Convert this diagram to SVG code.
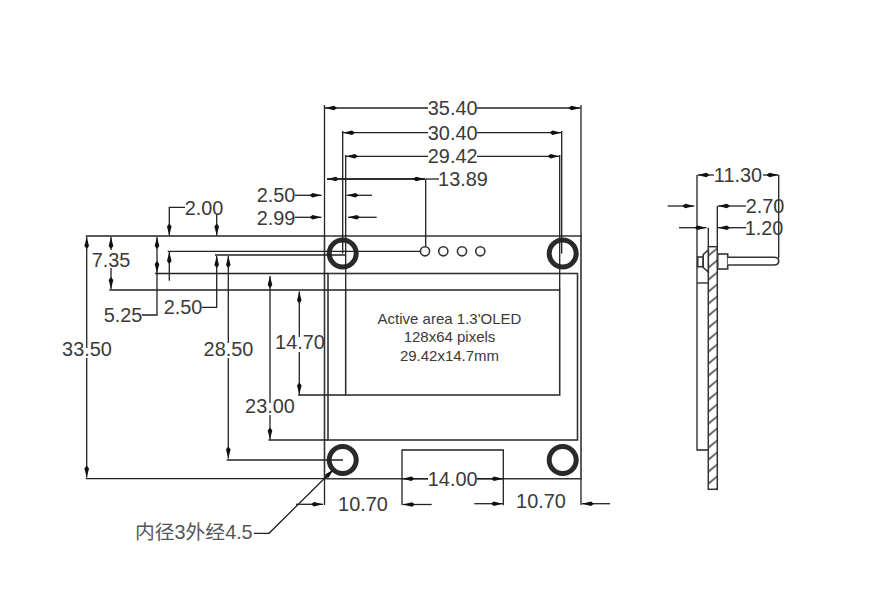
<svg xmlns="http://www.w3.org/2000/svg" width="874" height="590" viewBox="0 0 874 590">
<style>
.l{fill:none;stroke:#222;stroke-width:1.3}
.b{fill:none;stroke:#333;stroke-width:1.6}
.h{fill:#fff;stroke:#2a2a2a;stroke-width:5}
.p{fill:#fff;stroke:#333;stroke-width:1.6}
.d{font-family:"Liberation Sans",Arial,sans-serif;font-size:19.9px;fill:#3a3a3a;text-anchor:middle}
.c{font-family:"Liberation Sans",Arial,sans-serif;font-size:15px;fill:#3a3a3a;text-anchor:middle}
.a{marker-end:url(#ar)}
.s{marker-start:url(#al)}
</style>
<defs>
<marker id="ar" markerUnits="userSpaceOnUse" markerWidth="14" markerHeight="8" refX="12" refY="4" orient="auto"><path d="M0 4L3 1.7L12 4L3 6.3Z" fill="#111"/></marker>
<marker id="al" markerUnits="userSpaceOnUse" markerWidth="14" markerHeight="8" refX="1" refY="4" orient="auto"><path d="M13 4L10 1.7L1 4L10 6.3Z" fill="#111"/></marker>
<pattern id="hatch" patternUnits="userSpaceOnUse" width="9" height="12" x="708.3" y="246.7"><path d="M-1 9.8L10 .8M-1 21.8L10 12.8" stroke="#333" stroke-width="1.4" fill="none"/></pattern>
</defs>
<rect width="874" height="590" fill="#fff"/>
<g id="board">
<path class="b" d="M428 478.7H324.5V236H581V478.7H477"/>
<rect class="b" x="328" y="273.5" width="249.5" height="166.5"/>
<rect class="b" x="345.7" y="290" width="214" height="105"/>
</g>
<g id="holes">
<circle class="h" cx="342.7" cy="253.5" r="13.5"/>
<circle class="h" cx="562.7" cy="253.5" r="13.5"/>
<circle class="h" cx="342.7" cy="460" r="13.5"/>
<circle class="h" cx="562.7" cy="460" r="13.5"/>
</g>
<g id="pins">
<circle class="p" cx="425" cy="251.3" r="4.6"/>
<circle class="p" cx="443.3" cy="251.3" r="4.6"/>
<circle class="p" cx="462" cy="251.3" r="4.6"/>
<circle class="p" cx="480.3" cy="251.3" r="4.6"/>
</g>
<g id="active-area-label">
<text class="c" x="449.5" y="324">Active area 1.3'OLED</text>
<text class="c" x="449.5" y="342">128x64 pixels</text>
<text class="c" x="449.5" y="361">29.42x14.7mm</text>
</g>
<g id="connectors">
<!-- top dimensions -->
<path class="l" d="M324.5 105V236M581 105V236M342.7 131V253.5M561.7 131V253.5M345.7 155V290M559.7 155V290M425.7 179V246.7"/>
<path class="l s" d="M325 108H428"/><path class="l a" d="M477 108H580.5"/>
<path class="l s" d="M343 132.7H428"/><path class="l a" d="M477 132.7H561.5"/>
<path class="l s" d="M346 156.3H428"/><path class="l a" d="M477 156.3H559.5"/>
<path class="l s" d="M327 179H425"/><path class="l a" d="M327 179H425"/><path class="l" d="M425.7 179H439"/>
<path class="l a" d="M295 195.3H321.5"/><path class="l s" d="M346.7 195.3H372"/>
<path class="l a" d="M295 217.3H321.5"/><path class="l s" d="M348 217.3H376.7"/>
<!-- 2.00 -->
<path class="l a" d="M185 207.3H169.3V235.5"/>
<path class="l a" d="M216.7 214V235.5"/>
<!-- long horizontals -->
<path class="l" d="M85.7 236H324.5M85.7 478.7H324.5M155 273.5H328M109.3 290H345.7M167.7 251.3H420.5M215 255H345M226.7 460H343M268.5 440H328M298 395H345.7"/>
<!-- 33.50 -->
<path class="l s" d="M86.7 237V348"/><path class="l a" d="M86.7 358V477.5"/>
<!-- 7.35 -->
<path class="l s" d="M111 237V250"/><path class="l a" d="M111 268V289"/>
<!-- 5.25 -->
<path class="l s" d="M157 237V255"/><path class="l a" d="M157 255V273"/><path class="l" d="M157 273V315H142"/>
<!-- 2.50 -->
<path class="l s" d="M169.3 252V280.7"/>
<path class="l s" d="M216.7 256V307.3H201.7"/>
<!-- 28.50 -->
<path class="l s" d="M228.3 256V343"/><path class="l a" d="M228.3 358V458.5"/>
<!-- 23.00 -->
<path class="l s" d="M270 276V403"/><path class="l a" d="M270 415V439.5"/>
<!-- 14.70 -->
<path class="l s" d="M299.3 291.5V337"/><path class="l a" d="M299.3 352V394.5"/>
<!-- 14.00 and 10.70 -->
<path class="l" d="M402 505.3V450H503.3V505.3M581 478.7V505"/>
<path class="l" d="M324.5 478.7V505"/>
<path class="l s" d="M402.5 478.7H428"/><path class="l a" d="M477 478.7H503"/>
<path class="l a" d="M296 504.3H323"/>
<path class="l s" d="M403 504.5H431.7"/>
<path class="l a" d="M474.3 503.7H502.8"/>
<path class="l s" d="M582 503.7H610"/>
<!-- leader -->
<path class="l a" d="M254 533.3H269L333.5 469.5"/>
<!-- side view -->
<path class="l" d="M778.7 175V258"/>
<path class="l" d="M697 175V450H708.3"/>
<path class="l" d="M697 283H708.3"/>
<path class="l s" d="M697.5 175H714"/><path class="l a" d="M763 175H778.5"/>
<path class="l a" d="M667.7 206H694.3"/><path class="l s" d="M718 206H746"/>
<path class="l a" d="M679 227.7H706.5"/><path class="l s" d="M718 227.7H746"/>
<path class="l" d="M708.3 227.7V246.7M717.3 206V246.7"/>
</g>
<g id="side-view">
<rect x="708.3" y="246.7" width="9" height="242.6" fill="url(#hatch)" stroke="#333" stroke-width="1.5"/>
<rect class="p" x="717.7" y="254" width="10" height="15"/>
<path class="p" d="M727.7 257.3H774Q778.7 257.3 778.7 261Q778.7 265 774 265H727.7"/>
<rect class="p" x="697.7" y="257" width="5.5" height="9.7"/>
<path class="p" d="M703.2 254.5L708.3 250V272L703.2 267.5Z"/>
</g>
<g id="labels">
<text class="d" x="452.7" y="115">35.40</text>
<text class="d" x="452.7" y="139.5">30.40</text>
<text class="d" x="452.7" y="163">29.42</text>
<text class="d" x="463" y="186">13.89</text>
<text class="d" x="276" y="202">2.50</text>
<text class="d" x="276" y="224.5">2.99</text>
<text class="d" x="204" y="214.5">2.00</text>
<text class="d" x="111" y="267">7.35</text>
<text class="d" x="123" y="322">5.25</text>
<text class="d" x="183" y="314">2.50</text>
<text class="d" x="87" y="356">33.50</text>
<text class="d" x="228.5" y="356">28.50</text>
<text class="d" x="300" y="349">14.70</text>
<text class="d" x="270" y="413">23.00</text>
<text class="d" x="452.7" y="485.5">14.00</text>
<text class="d" x="363" y="511">10.70</text>
<text class="d" x="541" y="507.5">10.70</text>
<text class="d" x="738" y="182">11.30</text>
<text class="d" x="765" y="213">2.70</text>
<text class="d" x="764" y="234.5">1.20</text>
<text x="135" y="539" style="font-family:'Liberation Sans','Noto Sans CJK SC',sans-serif;font-size:19.8px;fill:#555">内径3外经4.5</text>
</g>
</svg>
